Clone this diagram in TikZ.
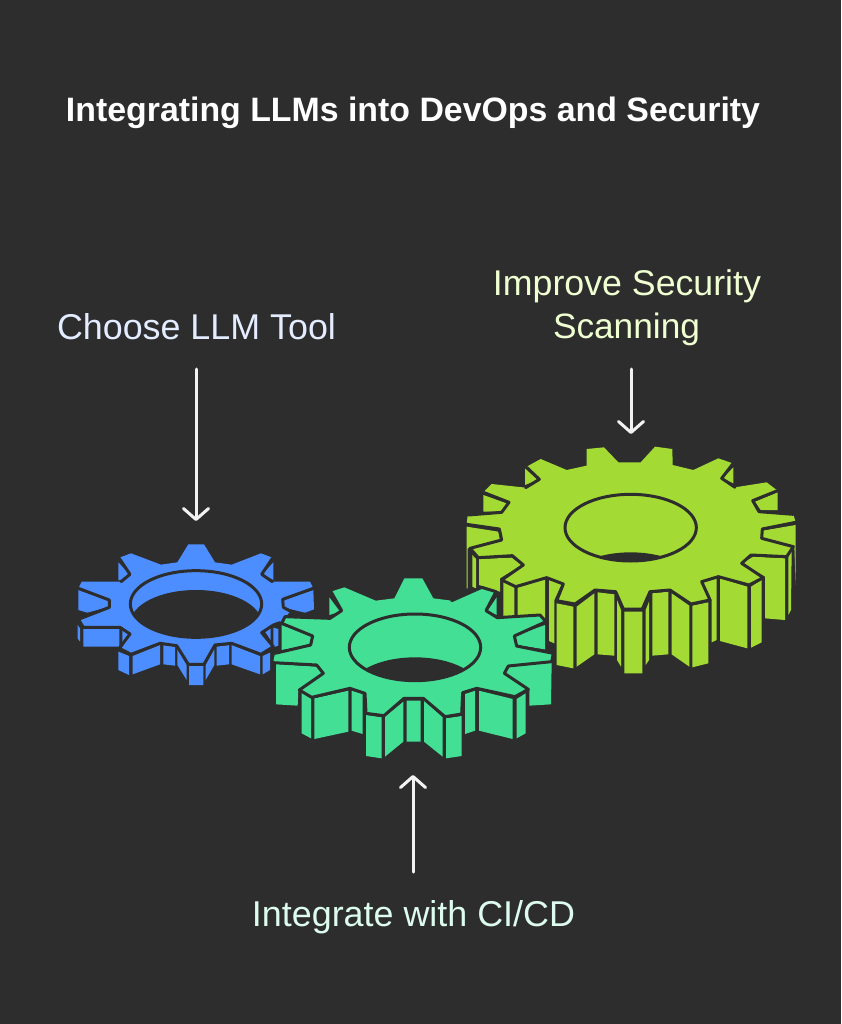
\documentclass[tikz,border=0pt]{standalone}
\usepackage{fontspec}
\usepackage{graphicx}
\setmainfont{Liberation Sans}
\usetikzlibrary{arrows.meta}
\definecolor{bgdark}{HTML}{2D2D2D}
\definecolor{gblue}{HTML}{4C8DFF}
\definecolor{ggreen}{HTML}{42DF94}
\definecolor{glime}{HTML}{A3DB34}
\definecolor{tblue}{HTML}{E4ECFF}
\definecolor{tlime}{HTML}{EFFFD2}
\definecolor{tgreen}{HTML}{DDFBEE}
\newcommand{\fitw}[2]{\resizebox{#1pt}{!}{#2}}
\tikzset{
  gl/.style={draw=bgdark,line width=3pt,line join=round,line cap=round},
  lbl/.style={anchor=base,inner sep=0pt,outer sep=0pt,font=\fontsize{34}{34}\selectfont},
  arw/.style={draw=white!94!bgdark,line width=3pt,line cap=round,
    -{Straight Barb[length=11pt,width=25pt,line width=3pt,round]}}
}
\begin{document}
\begin{tikzpicture}[x=1pt,y=-1pt]
\fill[bgdark] (0,0) rectangle (841,1024);
\useasboundingbox (0,0) rectangle (841,1024);

% ---------- lime gear
\begin{scope}[shift={(455,435)},scale=0.33333]
\fill[glime]
 (210,100)--(248,135)--(210,150)--cycle
 (835,97)--(803,130)--(835,145)--cycle
 (85,180)--(155,205)--(138,230)--(85,230)--cycle
 (968,172)--(900,200)--(917,225)--(968,225)--cycle
 (35,275)--(130,290)--(135,315)--(38,340)--(38,460)--(35,460)--cycle
 (52,360)--(63,372)--(63,460)--(52,455)--cycle
 (72,372)--(170,368)--(200,390)--(135,430)--(135,470)--(72,450)--cycle
 (145,440)--(178,458)--(178,560)--(145,560)--cycle
 (188,458)--(270,432)--(270,560)--(188,560)--cycle
 (282,435)--(320,447)--(298,495)--(298,625)--(282,618)--cycle
 (305,505)--(355,515)--(355,700)--(305,690)--cycle
 (365,515)--(418,475)--(418,658)--(365,695)--cycle
 (428,472)--(478,478)--(478,662)--(428,658)--cycle
 (486,495)--(498,525)--(498,695)--(486,675)--cycle
 (508,530)--(562,530)--(562,715)--(508,715)--cycle
 (572,525)--(582,500)--(582,675)--(572,690)--cycle
 (592,475)--(640,470)--(640,658)--(592,662)--cycle
 (650,475)--(703,512)--(703,695)--(650,658)--cycle
 (712,512)--(760,502)--(760,685)--(712,697)--cycle
 (745,442)--(785,430)--(785,615)--(770,622)--(770,495)--cycle
 (795,430)--(877,455)--(877,640)--(795,618)--cycle
 (888,455)--(920,435)--(920,622)--(888,638)--cycle
 (895,365)--(990,370)--(990,555)--(930,550)--(930,425)--(860,385)--cycle
 (1000,365)--(1010,345)--(1008,525)--(1000,540)--cycle
 (1022,270)--(922,287)--(925,308)--(1018,332)--(1022,450)--cycle;
\fill[glime] (395,42)--(447,37)--(490,82)--(557,82)--(600,35)--(652,42)--(653,90)--(715,105)--(790,70)--(833,85)--(800,130)--(840,157)--(935,142)--(965,165)--(893,197)--(912,230)--(1015,238)--(1022,262)--(922,282)--(920,310)--(1015,335)--(995,365)--(888,360)--(860,385)--(925,428)--(882,450)--(790,425)--(740,440)--(765,495)--(708,507)--(645,465)--(585,470)--(562,522)--(505,522)--(482,470)--(420,465)--(360,507)--(305,497)--(325,447)--(275,428)--(182,455)--(140,435)--(205,390)--(172,362)--(70,368)--(45,340)--(140,315)--(133,282)--(35,268)--(38,242)--(140,230)--(162,202)--(85,172)--(110,147)--(212,158)--(253,133)--(215,95)--(257,72)--(335,105)--(395,92)--cycle;
\begin{scope}
\clip (527,278) ellipse (197 and 100);
\fill[bgdark] (527,452) ellipse (197 and 100);
\end{scope}
\draw[gl] (527,278) ellipse (197 and 100);
\draw[gl] (215,97)--(253,133)--(212,158);
\draw[gl] (833,87)--(800,130)--(840,157);
\draw[gl] (85,172)--(162,202)--(140,232)--(40,240);
\draw[gl] (965,168)--(893,197)--(912,230)--(1015,238);
\draw[gl] (35,268)--(133,282)--(140,315)--(45,340)--(70,368)--(172,362)--(205,390)--(140,435)--(182,455)--(275,428)--(325,447)--(305,497)--(360,507)--(420,465)--(482,470)--(505,522)--(562,522)--(585,470)--(645,465)--(708,507)--(765,495)--(740,440)--(790,425)--(882,450)--(925,428)--(860,385)--(888,360)--(995,365)--(1015,335)--(920,310)--(922,282)--(1022,262);
\end{scope}

% ---------- blue gear
\begin{scope}[shift={(60,530)},scale=0.33333]
\fill[gblue]
 (175,97)--(208,133)--(183,150)--(175,150)--cycle
 (640,97)--(607,133)--(640,150)--cycle
 (55,180)--(148,212)--(148,230)--(82,248)--(55,240)--cycle
 (760,180)--(668,210)--(670,232)--(735,248)--(762,238)--cycle
 (53,285)--(60,295)--(60,335)--(53,325)--cycle
 (70,295)--(178,295)--(178,350)--(70,350)--cycle
 (187,300)--(205,312)--(187,340)--cycle
 (175,365)--(207,378)--(207,435)--(175,420)--cycle
 (218,378)--(300,345)--(300,403)--(218,433)--cycle
 (310,345)--(345,350)--(345,407)--(310,403)--cycle
 (352,355)--(380,405)--(380,450)--(352,405)--cycle
 (387,408)--(430,408)--(430,465)--(387,465)--cycle
 (437,405)--(463,355)--(463,405)--(437,450)--cycle
 (470,350)--(507,345)--(507,403)--(470,407)--cycle
 (515,345)--(600,378)--(600,433)--(515,403)--cycle
 (608,378)--(630,368)--(630,420)--(608,433)--cycle
 (640,293)--(655,297)--(655,347)--(640,352)--cycle
 (615,305)--(632,295)--(632,330)--cycle;
\fill[gblue] (385,43)--(432,43)--(465,97)--(515,104)--(603,70)--(637,83)--(605,133)--(637,155)--(750,155)--(760,175)--(668,208)--(670,232)--(690,245)--(660,280)--(640,285)--(605,308)--(640,350)--(603,373)--(515,340)--(465,345)--(432,403)--(385,403)--(350,347)--(300,340)--(213,373)--(178,355)--(210,312)--(180,292)--(70,292)--(55,268)--(148,232)--(148,210)--(55,175)--(65,155)--(183,155)--(210,133)--(178,83)--(213,70)--(303,104)--(352,97)--cycle;
\begin{scope}
\clip (408,222) ellipse (197 and 100);
\fill[bgdark] (408,280) ellipse (197 and 100);
\end{scope}
\draw[gl] (408,222) ellipse (197 and 100);
\draw[gl] (178,85)--(210,133)--(183,155);
\draw[gl] (637,85)--(605,133)--(637,155);
\draw[gl] (55,175)--(148,210)--(148,232)--(55,268)--(70,292)--(180,292)--(210,312)--(178,355)--(213,373)--(300,340)--(350,347)--(385,403)--(432,403)--(465,345)--(515,340)--(603,373)--(640,350)--(605,308)--(640,285)--(660,278);
\draw[gl] (760,175)--(668,208)--(670,232)--(690,243);
\end{scope}

% ---------- green gear
\begin{scope}[shift={(260,570)},scale=0.33333]
\fill[ggreen]
 (208,82)--(240,125)--(208,135)--cycle
 (710,82)--(683,122)--(710,135)--cycle
 (65,165)--(155,198)--(148,225)--(65,240)--cycle
 (855,165)--(765,198)--(772,225)--(855,238)--cycle
 (48,282)--(170,290)--(190,310)--(115,360)--(113,407)--(48,403)--cycle
 (875,278)--(750,290)--(735,310)--(808,358)--(808,407)--(873,403)--cycle
 (125,368)--(153,385)--(153,505)--(125,490)--cycle
 (163,385)--(265,362)--(265,485)--(163,507)--cycle
 (275,362)--(308,372)--(308,492)--(275,482)--cycle
 (318,435)--(365,442)--(365,565)--(318,558)--cycle
 (375,440)--(430,395)--(430,515)--(375,560)--cycle
 (440,392)--(482,392)--(482,515)--(440,515)--cycle
 (492,392)--(548,442)--(548,560)--(492,515)--cycle
 (558,445)--(605,438)--(605,558)--(558,565)--cycle
 (615,372)--(645,362)--(645,482)--(615,492)--cycle
 (657,362)--(758,387)--(758,507)--(657,482)--cycle
 (770,387)--(797,370)--(797,490)--(770,505)--cycle;
\fill[ggreen] (433,25)--(487,25)--(520,85)--(575,92)--(665,52)--(708,65)--(678,122)--(712,143)--(840,135)--(858,155)--(763,198)--(770,228)--(880,250)--(875,272)--(745,288)--(733,310)--(805,358)--(765,380)--(650,355)--(608,368)--(605,432)--(555,440)--(490,385)--(432,385)--(372,437)--(318,430)--(315,370)--(270,355)--(155,382)--(118,360)--(190,310)--(170,285)--(40,275)--(45,250)--(152,225)--(158,198)--(65,160)--(75,140)--(210,145)--(245,122)--(213,65)--(253,52)--(347,92)--(403,85)--cycle;
\begin{scope}
\clip (465,232) ellipse (197 and 100);
\fill[bgdark] (465,362) ellipse (197 and 100);
\end{scope}
\draw[gl] (465,232) ellipse (197 and 100);
\draw[gl] (575,92)--(665,52)--(708,65)--(678,122)--(712,143)--(840,135)--(858,155)--(763,198)--(770,228)--(880,250)--(875,275)--(745,288)--(733,310)--(805,358)--(765,380)--(650,355)--(608,368)--(605,432)--(555,440)--(490,385)--(432,385)--(372,437)--(318,430)--(315,370)--(270,355)--(155,382)--(118,360)--(190,310)--(170,285)--(40,278);
\draw[gl] (45,250)--(152,225)--(158,198)--(65,160)--(75,140)--(210,145)--(245,122)--(213,65);
\end{scope}

% ---------- labels
\node[lbl,text=white,font=\fontsize{34}{34}\selectfont\bfseries] (title) at (413,122) {\fitw{694}{Integrating LLMs into DevOps and Security}};
\node[lbl,text=tblue] (choose) at (196.5,339) {\fitw{279}{Choose LLM Tool}};
\node[lbl,text=tlime] (improve) at (627,295) {\fitw{268}{Improve Security}};
\node[lbl,text=tlime] (scanning) at (626.5,338) {\fitw{147}{Scanning}};
\node[lbl,text=tgreen] (integrate) at (413.5,926) {\fitw{323}{Integrate with CI/CD}};

% ---------- arrows
\coordinate (a1s) at (196,369); \coordinate (a1e) at (196,521);
\coordinate (a2s) at (631,369); \coordinate (a2e) at (631,434);
\coordinate (a3s) at (413,872); \coordinate (a3e) at (413,775);
\draw[arw] (a1s) -- (a1e);
\draw[arw] (a2s) -- (a2e);
\draw[arw] (a3s) -- (a3e);
\end{tikzpicture}
\end{document}
